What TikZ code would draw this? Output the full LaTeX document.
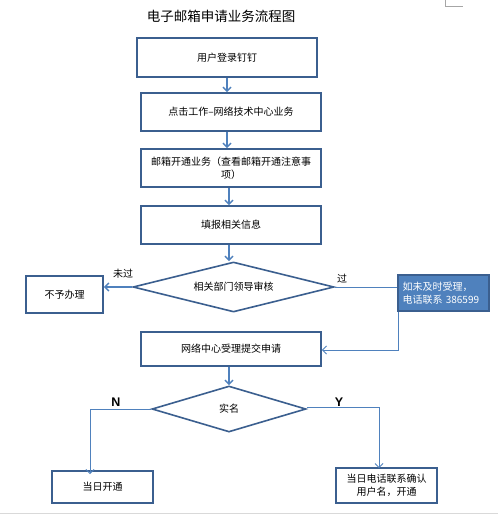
\documentclass[tikz,border=0pt]{standalone}
\usepackage{fontspec}
\setmainfont{Noto Sans CJK SC}
\newfontfamily\latinbold{Liberation Sans}
\usetikzlibrary{shapes.geometric,arrows.meta}
\definecolor{boxline}{HTML}{3B5F8F}
\definecolor{arrowc}{HTML}{4F81BD}
\definecolor{bluefill}{HTML}{4F81BD}
\begin{document}
\begin{tikzpicture}[x=1pt,y=-1pt,
  procbox/.style={draw=boxline,line width=1.6pt,rectangle,inner sep=0pt,align=center,font=\fontsize{10}{13}\selectfont},
  decbox/.style={draw=boxline,line width=1.6pt,diamond,inner sep=0pt,align=center,font=\fontsize{10}{13}\selectfont},
  flow/.style={draw=arrowc,line width=1.5pt,-{Straight Barb[length=4pt,width=8pt]}},
  thinflow/.style={draw=arrowc,line width=1pt,-{Straight Barb[length=4pt,width=8pt]}},
  thinline/.style={draw=arrowc,line width=1pt},
  lbl/.style={inner sep=0pt,font=\fontsize{10}{12}\selectfont},
  yn/.style={inner sep=0pt,font=\latinbold\bfseries\fontsize{12.5}{14}\selectfont}]
\useasboundingbox (0,0) rectangle (498,514);
\fill[white] (0,0) rectangle (498,514);
% page marks
\draw[gray!70,line width=0.8pt] (445.5,0) -- (445.5,6) -- (463,6);
\draw[gray!30,line width=1pt] (0,513) -- (498,513);
% title
\node[inner sep=0pt,font=\fontsize{13.5}{15}\selectfont] (title) at (221,16) {电子邮箱申请业务流程图};
% boxes
\node[procbox,minimum width=180pt,minimum height=39pt] (b1) at (227,57.5) {用户登录钉钉};
\node[procbox,minimum width=180pt,minimum height=38pt] (b2) at (231,112) {点击工作--网络技术中心业务};
\node[procbox,minimum width=180pt,minimum height=38pt] (b3) at (231,168) {邮箱开通业务（查看邮箱开通注意事\\项）};
\node[procbox,minimum width=180pt,minimum height=38pt] (b4) at (231,225) {填报相关信息};
\node[decbox,aspect=4,minimum width=201pt,minimum height=50pt] (d1) at (233.5,287) {相关部门领导审核};
\node[procbox,minimum width=77pt,minimum height=37pt] (no) at (64.5,294.5) {不予办理};
\node[procbox,fill=bluefill,text=white,align=left,minimum width=91pt,minimum height=36pt,text width=82pt] (blue) at (443.5,293) {如未及时受理，\\电话联系 386599};
\node[procbox,minimum width=180pt,minimum height=34pt] (b5) at (231,349) {网络中心受理提交申请};
\node[decbox,aspect=3.3,minimum width=154pt,minimum height=46pt] (d2) at (229,409) {实名};
\node[procbox,minimum width=101pt,minimum height=32pt] (o1) at (102.5,487) {当日开通};
\node[procbox,minimum width=101pt,minimum height=35pt] (o2) at (386.5,485.5) {当日电话联系确认\\用户名，开通};
% connectors
\draw[flow] ([xshift=0pt]b1.south) -- ([xshift=0pt]b1.south |- b2.north);
\draw[flow] ([xshift=-4pt]b2.south) -- ([xshift=-4pt]b2.south |- b3.north);
\draw[flow] ([xshift=-2pt]b3.south) -- ([xshift=-2pt]b3.south |- b4.north);
\draw[flow] ([xshift=-2pt]b4.south) -- ([xshift=-4.5pt]d1.north);
\draw[flow] (d1.west) -- (d1.west -| no.east);
\draw[thinline] (d1.east) -- (d1.east -| blue.west);
\coordinate (bl) at ([xshift=1.5pt]blue.south west);
\draw[thinflow] (bl) |- ([yshift=-1pt]b5.east);
\draw[flow] ([xshift=-2pt]b5.south) -- (d2.north);
\coordinate (o1top) at ([xshift=-12.5pt,yshift=-4pt]o1.north);
\coordinate (o2top) at ([xshift=-7.5pt,yshift=-1pt]o2.north);
\draw[thinflow] (d2.west) -| (o1top);
\draw[thinflow] ([yshift=2pt]d2.east) -| (o2top);
% labels
\node[lbl] (l1) at (123,274) {未过};
\node[lbl] (l2) at (342,279) {过};
\node[yn] (ln) at (116,402) {N};
\node[yn] (ly) at (339,402) {Y};
\end{tikzpicture}
\end{document}
